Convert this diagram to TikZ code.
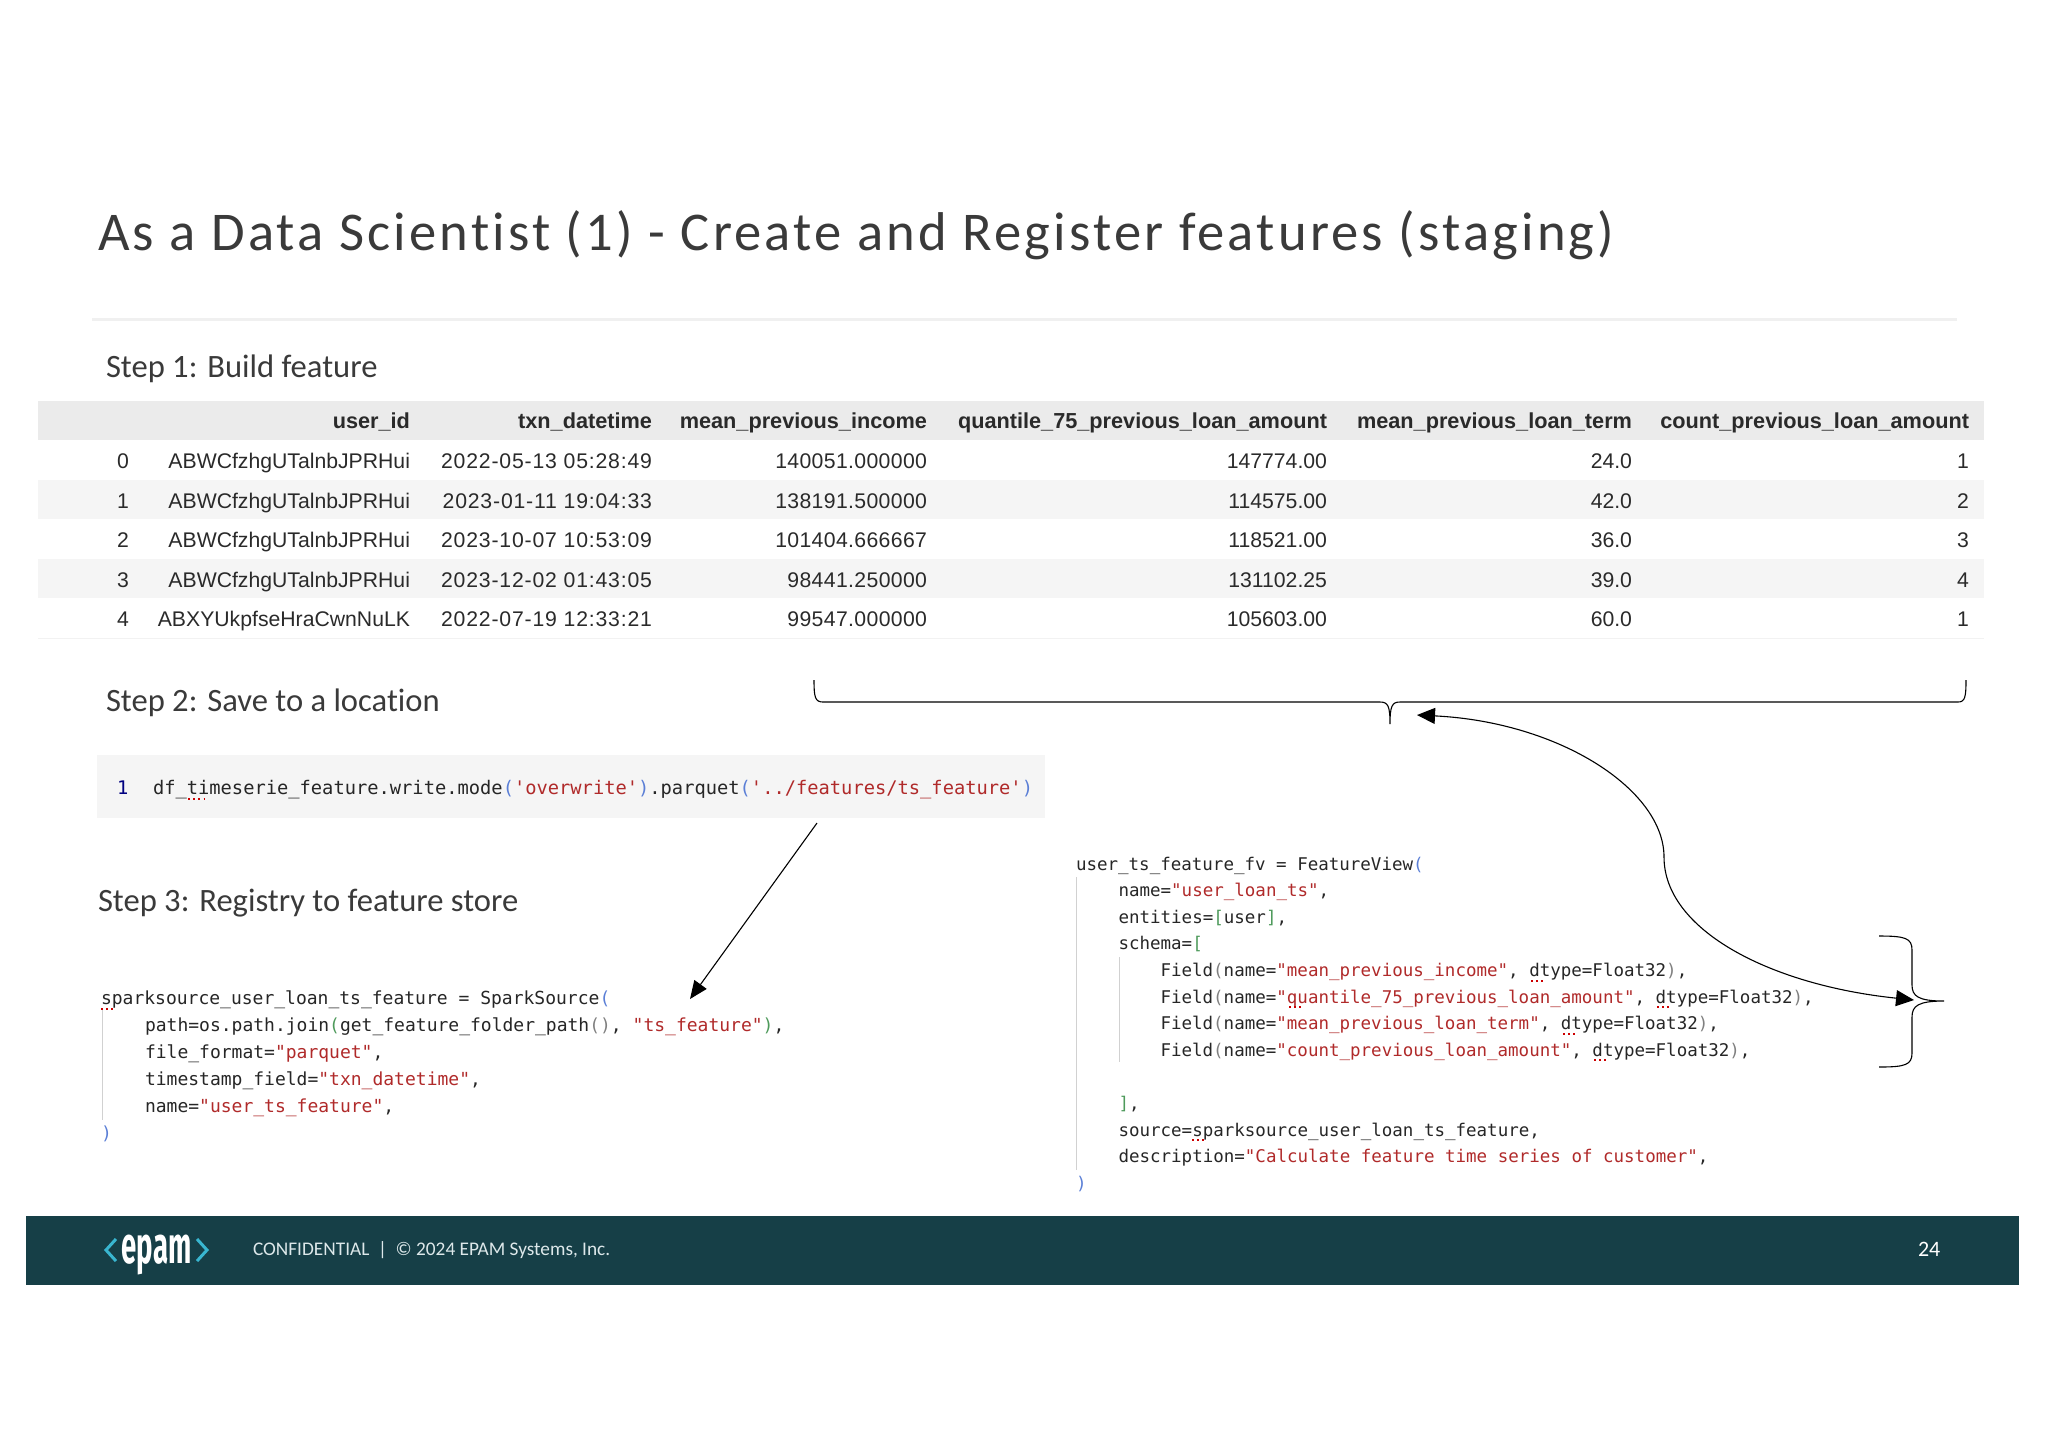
\documentclass[tikz,border=0pt]{standalone}
\usepackage{fontspec}
\usepackage{graphicx}
\usetikzlibrary{arrows.meta}
\setmainfont[Ligatures=NoCommon]{Carlito}
\newfontfamily\tabf{Liberation Sans}
\newfontfamily\codef{DejaVu Sans Mono}
\newfontfamily\logof{Fira Sans}
\definecolor{inkc}{HTML}{3A3A3A}
\definecolor{tabc}{HTML}{2A2A2A}
\definecolor{redc}{HTML}{B02A2A}
\definecolor{bluec}{HTML}{5B7FD6}
\definecolor{greenc}{HTML}{4E9A5B}
\definecolor{footc}{HTML}{163F47}
\definecolor{footl}{HTML}{DDE8EA}
\definecolor{cyanc}{HTML}{39B6D0}
\newcommand{\Rs}[1]{\textcolor{redc}{#1}}
\newcommand{\Bl}[1]{\textcolor{bluec}{#1}}
\newcommand{\Gr}[1]{\textcolor{greenc}{#1}}
\tikzset{
  lbl/.style={inner sep=0pt,outer sep=0pt,anchor=base west,text=inkc},
  title/.style={lbl,font=\fontsize{27.3}{31}\selectfont\addfontfeatures{LetterSpace=5.8}},
  steptext/.style={lbl,font=\fontsize{16.3}{19}\selectfont},
  tabh/.style={inner sep=0pt,outer sep=0pt,anchor=base east,text=tabc,font=\tabf\bfseries\fontsize{10.85}{12}\selectfont},
  tabd/.style={inner sep=0pt,outer sep=0pt,anchor=base east,text=tabc,font=\tabf\fontsize{10.6}{12}\selectfont},
  tabn/.style={tabd,font=\tabf\fontsize{10.6}{12}\selectfont\addfontfeatures{LetterSpace=1.7}},
  tabt/.style={tabd,font=\tabf\fontsize{10.6}{12}\selectfont\addfontfeatures{LetterSpace=3.9}},
  codeA/.style={inner sep=0pt,outer sep=0pt,anchor=base west,text=black!85,font=\codef\fontsize{9.37}{11}\selectfont},
  codeB/.style={codeA,font=\codef\fontsize{9}{11}\selectfont},
  codeC/.style={codeA,font=\codef\fontsize{8.75}{11}\selectfont},
  guide/.style={draw=black!18,line width=.5pt},
  squig/.style={draw=red!80!black,line width=.9pt,dash pattern=on .8pt off 1.8pt},
  linkline/.style={draw=black,line width=.55pt},
  bigtip/.style={-{Triangle[length=9pt,width=7.5pt]}},
}
\begin{document}
\begin{tikzpicture}[x=0.5pt,y=-0.5pt]
\useasboundingbox (0,0) rectangle (2048,1448);
% title
\node[title] (ttl) at (98,250) {As a Data Scientist (1) - Create and Register features (staging)};
\fill[black!6] (92,318) rectangle (1957,320.5);
% steps
\node[steptext] (s1) at (106,377) {Step 1: Build feature};
\node[steptext] (s2) at (106,711) {Step 2: Save to a location};
\node[steptext] (s3) at (98,911) {Step 3: Registry to feature store};
% table
\fill[black!8] (38,401) rectangle (1984,440);
\fill[black!4] (38,479.5) rectangle (1984,519);
\fill[black!4] (38,559) rectangle (1984,598);
\fill[black!5] (38,637.5) rectangle (1984,639);
\node[tabh] (h1) at (410,428) {user\_id};
\node[tabh] (h2) at (652,428) {txn\_datetime};
\node[tabh] (h3) at (927,428) {mean\_previous\_income};
\node[tabh] (h4) at (1327,428) {quantile\_75\_previous\_loan\_amount};
\node[tabh] (h5) at (1632,428) {mean\_previous\_loan\_term};
\node[tabh] (h6) at (1969,428) {count\_previous\_loan\_amount};
\foreach \i/\uid/\dt/\va/\vb/\vc/\vd in {
 0/ABWCfzhgUTalnbJPRHui/2022-05-13 05:28:49/140051.000000/147774.00/24.0/1,
 1/ABWCfzhgUTalnbJPRHui/2023-01-11 19:04:33/138191.500000/114575.00/42.0/2,
 2/ABWCfzhgUTalnbJPRHui/2023-10-07 10:53:09/101404.666667/118521.00/36.0/3,
 3/ABWCfzhgUTalnbJPRHui/2023-12-02 01:43:05/98441.250000/131102.25/39.0/4,
 4/ABXYUkpfseHraCwnNuLK/2022-07-19 12:33:21/99547.000000/105603.00/60.0/1}{
  \pgfmathsetmacro{\yy}{468.5+39.6*\i}
  \node[tabd] (r\i a) at (129,\yy) {\i};
  \node[tabd] (r\i b) at (410,\yy) {\uid};
  \node[tabt] (r\i c) at (652,\yy) {\dt};
  \node[tabn] (r\i d) at (927,\yy) {\va};
  \node[tabd] (r\i e) at (1327,\yy) {\vb};
  \node[tabd] (r\i f) at (1632,\yy) {\vc};
  \node[tabd] (r\i g) at (1969,\yy) {\vd};
}
% save code block
\fill[black!4] (97,755) rectangle (1045,818);
\node[codeA,text=blue!50!black] (c0) at (117,794) {1};
\node[codeA] (c1) at (153,794) {df\_timeserie\_feature.write.mode\Bl{(}\Rs{'overwrite'}\Bl{)}.parquet\Bl{(}\Rs{'../features/ts\_feature'}\Bl{)}};
\draw[squig] (188,799) -- (204,799);
% left code
\draw[guide] (102,1010) -- (102,1120);
\node[codeB] (l0) at (101,1004.5) {sparksource\_user\_loan\_ts\_feature = SparkSource\Bl{(}};
\node[codeB] (l1) at (145,1031.5) {path=os.path.join\Gr{(}get\_feature\_folder\_path\textcolor{black!50}{()}, \Rs{"ts\_feature"}\Gr{)},};
\node[codeB] (l2) at (145,1058.5) {file\_format=\Rs{"parquet"},};
\node[codeB] (l3) at (145,1085.5) {timestamp\_field=\Rs{"txn\_datetime"},};
\node[codeB] (l4) at (145,1112.5) {name=\Rs{"user\_ts\_feature"},};
\node[codeB] (l5) at (101,1139.5) {\Bl{)}};
\draw[squig] (101,1009) -- (116,1009);
% right code
\draw[guide] (1076,877) -- (1076,1170);
\draw[guide] (1119,957) -- (1119,1062);
\node[codeC] (f0) at (1076,870) {user\_ts\_feature\_fv = FeatureView\Bl{(}};
\node[codeC] (f1) at (1118.5,896.6) {name=\Rs{"user\_loan\_ts"},};
\node[codeC] (f2) at (1118.5,923.2) {entities=\Gr{[}user\Gr{]},};
\node[codeC] (f3) at (1118.5,949.8) {schema=\Gr{[}};
\node[codeC] (f4) at (1160.5,976.4) {Field\textcolor{black!50}{(}name=\Rs{"mean\_previous\_income"}, dtype=Float32\textcolor{black!50}{)},};
\node[codeC] (f5) at (1160.5,1003) {Field\textcolor{black!50}{(}name=\Rs{"quantile\_75\_previous\_loan\_amount"}, dtype=Float32\textcolor{black!50}{)},};
\node[codeC] (f6) at (1160.5,1029.6) {Field\textcolor{black!50}{(}name=\Rs{"mean\_previous\_loan\_term"}, dtype=Float32\textcolor{black!50}{)},};
\node[codeC] (f7) at (1160.5,1056.2) {Field\textcolor{black!50}{(}name=\Rs{"count\_previous\_loan\_amount"}, dtype=Float32\textcolor{black!50}{)},};
\node[codeC] (f9) at (1118.5,1109.4) {\Gr{]},};
\node[codeC] (f10) at (1118.5,1136) {source=sparksource\_user\_loan\_ts\_feature,};
\node[codeC] (f11) at (1118.5,1162.6) {description=\Rs{"Calculate feature time series of customer"},};
\node[codeC] (f12) at (1076,1189) {\Bl{)}};
\draw[squig] (1531,981) -- (1546,981);
\draw[squig] (1289,1007) -- (1303,1007);
\draw[squig] (1657,1007) -- (1672,1007);
\draw[squig] (1563,1034) -- (1577,1034);
\draw[squig] (1594,1060) -- (1609,1060);
\draw[squig] (1192,1140) -- (1206,1140);
% top brace
\draw[linkline] (814,680) .. controls (814,697) and (815,702) .. (823,702) -- (1380,702)
  .. controls (1388,702) and (1390,706) .. (1390,724)
  .. controls (1390,706) and (1392,702) .. (1400,702) -- (1958,702)
  .. controls (1965,702) and (1966,697) .. (1966,680);
% right brace
\draw[linkline] (1879,936) .. controls (1905,936) and (1912,938) .. (1912,950) -- (1912,985)
  .. controls (1912,996) and (1918,1001) .. (1944,1001)
  .. controls (1918,1001) and (1912,1006) .. (1912,1017) -- (1912,1053)
  .. controls (1912,1065) and (1905,1067) .. (1879,1067);
% connectors
\coordinate (sfrom) at (817,823);
\coordinate (sto) at (690,999);
\draw[linkline,bigtip] (sfrom) -- (sto);
\coordinate (cfrom) at (1417,715);
\coordinate (cmid) at (1664,857);
\coordinate (cto) at (1914,1000);
\draw[linkline,{Triangle[length=9pt,width=8pt]}-{Triangle[length=9pt,width=8pt]}] (cfrom) .. controls (1560,722) and (1664,790) .. (cmid) .. controls (1664,930) and (1770,985) .. (cto);
% footer
\fill[footc] (26,1216) rectangle (2019,1285);
\draw[cyanc,line width=1.5pt] (116,1239) -- (106,1250) -- (116,1261);
\draw[cyanc,line width=1.5pt] (197,1239) -- (207,1250) -- (197,1261);
\node[inner sep=0pt,anchor=base,text=white,font=\logof\bfseries\fontsize{26}{30}\selectfont] (logo) at (156.5,1263) {\scalebox{.53}[1]{epam}};
\node[lbl,text=footl,font=\fontsize{9.65}{11}\selectfont] (ft) at (253,1255) {CONFIDENTIAL\ \ |\ \ © 2024 EPAM Systems, Inc.};
\node[lbl,text=white,font=\fontsize{11}{13}\selectfont] (pg) at (1918,1256) {24};
\end{tikzpicture}
\end{document}
